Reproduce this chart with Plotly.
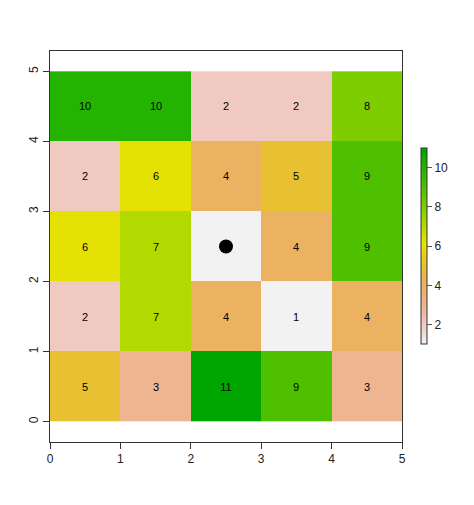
import colorsys
import plotly.graph_objects as go

# Data: 5x5 raster, rows listed from bottom (y 0-1) to top (y 4-5)
x_centers = [0.5, 1.5, 2.5, 3.5, 4.5]
y_centers = [0.5, 1.5, 2.5, 3.5, 4.5]
values = [
    [5, 3, 11, 9, 3],
    [2, 7, 4, 1, 4],
    [6, 7, 1, 4, 9],
    [2, 6, 4, 5, 9],
    [10, 10, 2, 2, 8],
]
point_x = [2.5]
point_y = [2.5]
x_ticks = [0, 1, 2, 3, 4, 5]
y_ticks = [0, 1, 2, 3, 4, 5]
cbar_ticks = [2, 4, 6, 8, 10]


def terrain_colors(n):
    k = n // 2
    def seq(a, b, m):
        if m == 1:
            return [a]
        return [a + (b - a) * i / (m - 1) for i in range(m)]
    h1, s1, v1 = seq(4/12, 2/12, k), seq(1, 1, k), seq(0.65, 0.9, k)
    m = n - k + 1
    h2, s2, v2 = seq(2/12, 0, m)[1:], seq(1, 0, m)[1:], seq(0.9, 0.95, m)[1:]
    cols = []
    for h, s, v in zip(h1 + h2, s1 + s2, v1 + v2):
        r, g, b = colorsys.hsv_to_rgb(h, s, v)
        cols.append("rgb(%d,%d,%d)" % (round(r * 255), round(g * 255), round(b * 255)))
    return cols


cols = list(reversed(terrain_colors(101)))
colorscale = [[i / (len(cols) - 1), c] for i, c in enumerate(cols)]

text = [[str(v) for v in row] for row in values]

fig = go.Figure()
fig.add_trace(go.Heatmap(
    x=x_centers, y=y_centers, z=values,
    zmin=1, zmax=11, colorscale=colorscale,
    text=text, texttemplate="%{text}",
    textfont=dict(family="Liberation Sans, Arial", size=11, color="black"),
    hoverinfo="skip",
    colorbar=dict(
        x=1.054, xanchor="left", xpad=0, ypad=0,
        y=0.501, yanchor="middle",
        len=196, lenmode="pixels", thickness=6,
        outlinewidth=1, outlinecolor="#333",
        tickvals=cbar_ticks, ticks="outside", ticklen=5, tickcolor="#555",
        tickfont=dict(family="Liberation Sans, Arial", size=12, color="#222"),
    ),
))
fig.add_trace(go.Scatter(
    x=point_x, y=point_y, mode="markers",
    marker=dict(size=14, color="black"), showlegend=False, hoverinfo="skip",
))

axis_common = dict(
    showgrid=False, zeroline=False, showline=True, mirror=True,
    linecolor="#333", linewidth=1, ticks="outside", ticklen=6,
    tickcolor="#333", automargin=False,
    tickfont=dict(family="Liberation Sans, Arial", size=12, color="#222"),
)
fig.update_xaxes(range=[0, 5], tickvals=x_ticks, **axis_common)
fig.update_yaxes(range=[-0.29, 5.29], tickvals=y_ticks, tickangle=-90, **axis_common)

fig.update_layout(
    width=466, height=497,
    margin=dict(l=42, r=72, t=43, b=63, autoexpand=False),
    plot_bgcolor="white", paper_bgcolor="white",
    showlegend=False,
)
fig.write_html("out.html")
